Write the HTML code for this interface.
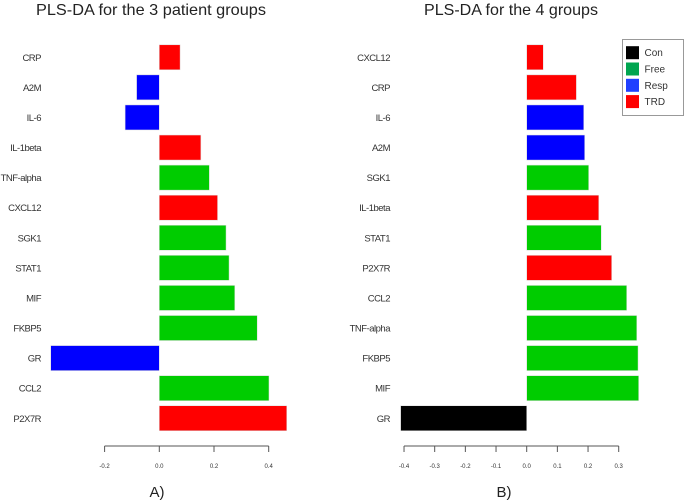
<!DOCTYPE html>
<html><head><meta charset="utf-8"><style>
html,body{margin:0;padding:0;background:#fff;width:685px;height:500px;overflow:hidden}
svg{display:block;font-family:"Liberation Sans",sans-serif}
</style></head><body>
<svg id="chart" width="685" height="500" viewBox="0 0 685 500" xmlns="http://www.w3.org/2000/svg">
<text x="151" y="15" text-anchor="middle" font-size="16" fill="#222" textLength="230" lengthAdjust="spacingAndGlyphs">PLS-DA for the 3 patient groups</text>
<text x="511" y="15" text-anchor="middle" font-size="16" fill="#222" textLength="174" lengthAdjust="spacingAndGlyphs">PLS-DA for the 4 groups</text>
<text x="157" y="497" text-anchor="middle" font-size="15" fill="#222">A)</text>
<text x="504" y="497" text-anchor="middle" font-size="15" fill="#222">B)</text>
<g>
<rect x="622.5" y="39.5" width="61" height="76" fill="#fff" stroke="#999" stroke-width="1"/>
</g>
</svg>
<script>
const genesA = ["CRP","A2M","IL-6","IL-1beta","TNF-alpha","CXCL12","SGK1","STAT1","MIF","FKBP5","GR","CCL2","P2X7R"];
const valuesA = [0.076,-0.083,-0.125,0.152,0.183,0.213,0.244,0.255,0.276,0.358,-0.397,0.401,0.466];
const groupsA = ["TRD","Resp","Resp","TRD","Free","TRD","Free","Free","Free","Free","Resp","Free","TRD"];
const ticksA = [-0.2,0.0,0.2,0.4];
const tickLabelsA = ["-0.2","0.0","0.2","0.4"];

const genesB = ["CXCL12","CRP","IL-6","A2M","SGK1","IL-1beta","STAT1","P2X7R","CCL2","TNF-alpha","FKBP5","MIF","GR"];
const valuesB = [0.054,0.162,0.186,0.189,0.202,0.235,0.243,0.277,0.326,0.359,0.363,0.365,-0.411];
const groupsB = ["TRD","TRD","Resp","Resp","Free","TRD","Free","TRD","Free","Free","Free","Free","Con"];
const ticksB = [-0.4,-0.3,-0.2,-0.1,0.0,0.1,0.2,0.3];
const tickLabelsB = ["-0.4","-0.3","-0.2","-0.1","0.0","0.1","0.2","0.3"];

const legendLabels = ["Con","Free","Resp","TRD"];
const barColors = {Con:"#000000",Free:"#00cc00",Resp:"#0000ff",TRD:"#ff0000"};
const legendColors = {Con:"#000000",Free:"#00a550",Resp:"#2040ff",TRD:"#ff0000"};

const NS="http://www.w3.org/2000/svg";
const svg=document.getElementById('chart');
function mk(tag,attrs,parent){const e=document.createElementNS(NS,tag);for(const k in attrs)e.setAttribute(k,attrs[k]);(parent||svg).appendChild(e);return e;}

function panel(id,genes,values,groups,ticks,tickLabels,zeroX,scale,labelX){
  const g=mk('g',{});
  
  
  const xs=v=>zeroX+v*scale;
  const yc=i=>57.3+i*30.08;
  genes.forEach((name,i)=>{
    const v=values[i];
    const x0=Math.min(xs(0),xs(v)), w=Math.abs(xs(v)-xs(0));
    const r=mk('rect',{x:x0,y:yc(i)-12.5,width:w,height:25,fill:barColors[groups[i]],stroke:"#ddd","stroke-width":0.5},g);
    
    
    const t=mk('text',{x:labelX,y:yc(i)+3.5,"text-anchor":"end","font-size":9.5,fill:"#333","letter-spacing":"-0.5"},g);
    t.textContent=name;
    
    
  });
  const ax=mk('g',{stroke:"#555","stroke-width":1},g);
  
  
  mk('line',{x1:xs(ticks[0]),x2:xs(ticks[ticks.length-1]),y1:446,y2:446},ax);
  ticks.forEach((t,i)=>{
    mk('line',{x1:xs(t),x2:xs(t),y1:446,y2:452},ax);
    const tl=mk('text',{x:xs(t),y:468,"text-anchor":"middle","font-size":6,fill:"#333"},g);
    tl.textContent=tickLabels[i];
    
    
  });
}
panel('panel-a',genesA,valuesA,groupsA,ticksA,tickLabelsA,159.3,273.5,41);
panel('panel-b',genesB,valuesB,groupsB,ticksB,tickLabelsB,526.7,306.7,390);

legendLabels.forEach((l,i)=>{
  const y=52.7+i*16.3;
  const r=mk('rect',{x:626,y:y-6.5,width:13,height:13,fill:legendColors[l]});
  
  
  const t=mk('text',{x:644.5,y:y+3.5,"font-size":10,fill:"#333"});
  t.textContent=l;
  
  
});
</script>
</body></html>
